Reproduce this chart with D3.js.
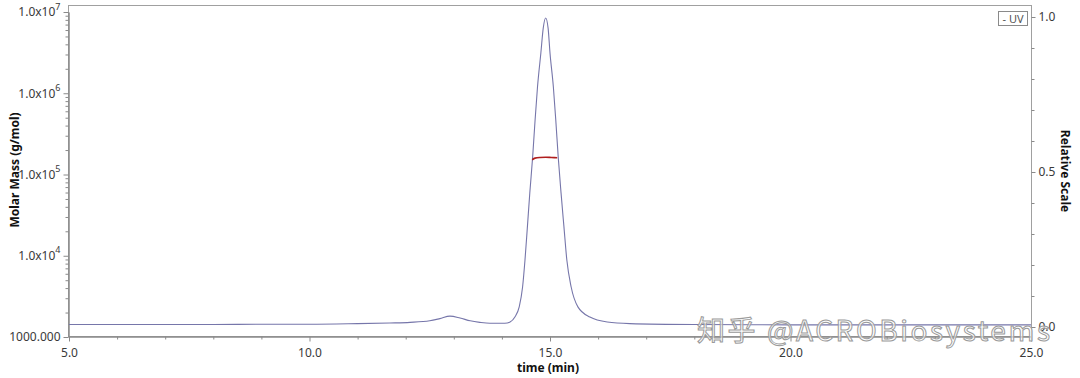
<!DOCTYPE html>
<html>
<head>
<meta charset="utf-8">
<script src="https://cdn.jsdelivr.net/npm/d3@7"></script>
<style>
  body { margin: 0; background: #fff; }
  svg { display: block; font-family: "Noto Sans", sans-serif; }
</style>
</head>
<body>
<svg></svg>
<script>
// UV trace (relative scale)
let timeValues = [5.0, 6.0, 7.0, 8.0, 9.0, 10.0, 11.0, 11.67, 12.09, 12.5, 12.71, 12.92, 13.13, 13.34, 13.54, 13.75,
                  14.06, 14.17, 14.27, 14.36, 14.43, 14.48, 14.53, 14.58, 14.64, 14.69, 14.74, 14.81, 14.86, 14.91,
                  14.96, 15.0, 15.07, 15.12, 15.17, 15.23, 15.29, 15.35, 15.44, 15.58, 15.83, 16.19, 16.66, 18.0,
                  20.0, 22.0, 25.0];
let uvValues = [0.008, 0.008, 0.008, 0.008, 0.009, 0.009, 0.011, 0.013, 0.015, 0.020, 0.027, 0.035, 0.029, 0.020, 0.015, 0.012,
                0.012, 0.016, 0.032, 0.065, 0.129, 0.216, 0.323, 0.432, 0.550, 0.668, 0.774, 0.884, 0.965, 0.997,
                0.965, 0.884, 0.774, 0.668, 0.550, 0.432, 0.323, 0.216, 0.129, 0.065, 0.032, 0.016, 0.011, 0.008,
                0.007, 0.007, 0.007];

// molar mass across the peak
let massTimes = [14.63, 14.69, 14.79, 14.91, 15.03, 15.15];
let massValues = [1.52e5, 1.59e5, 1.62e5, 1.63e5, 1.62e5, 1.61e5];

// ticks
let xTicks = [5, 10, 15, 20, 25];
let xTickLabels = ["5.0", "10.0", "15.0", "20.0", "25.0"];
let massTicks = [1e3, 1e4, 1e5, 1e6, 1e7];
let massTickBase = ["1000.000", "1.0x10", "1.0x10", "1.0x10", "1.0x10"];
let massTickExp = ["", "4", "5", "6", "7"];
let relTicks = [0, 0.5, 1.0];
let relTickLabels = ["0.0", "0.5", "1.0"];

let width = 1080;
let height = 378;
let plotLeft = 68.5, plotRight = 1031.5, plotTop = 5.5, plotBottom = 336.5;

let svg = d3.select("svg").attr("width", width).attr("height", height);

let xScale = d3.scaleLinear().domain([5, 25]).range([69, 1031]);
let massScale = d3.scaleLog().domain([1e3, 1e7]).range([337, 12]);
let relScale = d3.scaleLinear().domain([0, 1]).range([327, 17]);

let axisColor = "#8a8a8a";
let textColor = "#3a3a3a";

// frame
svg.append("rect")
   .attr("x", plotLeft).attr("y", plotTop)
   .attr("width", plotRight - plotLeft).attr("height", plotBottom - plotTop)
   .attr("fill", "none").attr("stroke", "#a0a0a0");

let styleAxis = g => {
  g.select(".domain").attr("stroke", axisColor);
  g.selectAll(".tick line").attr("stroke", axisColor);
  g.selectAll(".tick text").attr("fill", textColor).style("font-size", "12px")
   .style("font-family", "'Noto Sans', sans-serif");
};

// x axis: minor then major
let xMinor = xScale.ticks(20).filter(t => !xTicks.includes(t));
svg.append("g")
   .attr("transform", "translate(0," + plotBottom + ")")
   .call(d3.axisBottom(xScale).tickValues(xMinor).tickSize(3).tickSizeOuter(0).tickFormat(""))
   .call(styleAxis);
svg.append("g")
   .attr("transform", "translate(0," + plotBottom + ")")
   .call(d3.axisBottom(xScale).tickValues(xTicks).tickSize(5).tickPadding(7).tickSizeOuter(0)
           .tickFormat((d, i) => xTickLabels[i]))
   .call(styleAxis);

// left log axis
let massMinor = massScale.ticks().filter(t => !massTicks.some(m => Math.abs(m - t) < 1e-6 * m));
svg.append("g")
   .attr("transform", "translate(" + plotLeft + ",0)")
   .call(d3.axisLeft(massScale).tickValues(massMinor).tickSize(3).tickSizeOuter(0).tickFormat(""))
   .call(styleAxis);
let leftAxis = svg.append("g")
   .attr("transform", "translate(" + plotLeft + ",0)")
   .call(d3.axisLeft(massScale).tickValues(massTicks).tickSize(5).tickPadding(3).tickSizeOuter(0)
           .tickFormat(() => ""))
   .call(styleAxis);
leftAxis.selectAll(".tick text").each(function(d, i) {
  let t = d3.select(this);
  t.append("tspan").text(massTickBase[i]);
  if (massTickExp[i]) {
    t.append("tspan").attr("dy", "-0.75em").style("font-size", "9px").text(massTickExp[i]);
  }
});

// right relative axis
let relMinor = relScale.ticks(10).filter(t => !relTicks.some(r => Math.abs(r - t) < 1e-9));
svg.append("g")
   .attr("transform", "translate(" + plotRight + ",0)")
   .call(d3.axisRight(relScale).tickValues(relMinor).tickSize(3).tickSizeOuter(0).tickFormat(""))
   .call(styleAxis)
   .select(".domain").remove();
svg.append("g")
   .attr("transform", "translate(" + plotRight + ",0)")
   .call(d3.axisRight(relScale).tickValues(relTicks).tickSize(4).tickPadding(3).tickSizeOuter(0)
           .tickFormat((d, i) => relTickLabels[i]))
   .call(styleAxis)
   .select(".domain").remove();

// UV trace
let uvPoints = timeValues.map((t, i) => [t, uvValues[i]]);
svg.append("path")
   .datum(uvPoints)
   .attr("fill", "none")
   .attr("stroke", "#7676aa")
   .attr("stroke-width", 1.1)
   .attr("d", d3.line().x(d => xScale(d[0])).y(d => relScale(d[1])).curve(d3.curveMonotoneX));

// molar mass
let massPoints = massTimes.map((t, i) => [t, massValues[i]]);
svg.append("path")
   .datum(massPoints)
   .attr("fill", "none")
   .attr("stroke", "#b01e1e")
   .attr("stroke-width", 1.6)
   .attr("d", d3.line().x(d => xScale(d[0])).y(d => massScale(d[1])).curve(d3.curveMonotoneX));

// legend
let legend = svg.append("g").attr("transform", "translate(998.5,11.5)");
legend.append("rect").attr("width", 29).attr("height", 14)
      .attr("fill", "#fff").attr("stroke", axisColor);
legend.append("text").attr("x", 4).attr("y", 11)
      .attr("fill", "#555").style("font-size", "11px").text("- UV");

// axis titles
svg.append("text")
   .attr("transform", "translate(19,170) rotate(-90)")
   .attr("text-anchor", "middle")
   .attr("fill", "#111").style("font-size", "12px").style("font-weight", "bold")
   .text("Molar Mass (g/mol)");
svg.append("text")
   .attr("x", 548).attr("y", 372)
   .attr("text-anchor", "middle")
   .attr("fill", "#111").style("font-size", "12px").style("font-weight", "bold")
   .text("time (min)");
svg.append("text")
   .attr("transform", "translate(1061,171) rotate(90)")
   .attr("text-anchor", "middle")
   .attr("fill", "#111").style("font-size", "12px").style("font-weight", "bold")
   .text("Relative Scale");

// watermark
svg.append("text")
   .attr("x", 697).attr("y", 341)
   .attr("textLength", 353).attr("lengthAdjust", "spacing")
   .attr("fill", "#fff").attr("fill-opacity", 0.7)
   .attr("stroke", "#9a9a9a").attr("stroke-width", 1)
   .style("font-family", "'Noto Sans CJK SC', 'Noto Sans', sans-serif")
   .style("font-size", "28px")
   .text("知乎 @ACROBiosystems");
</script>
</body>
</html>
